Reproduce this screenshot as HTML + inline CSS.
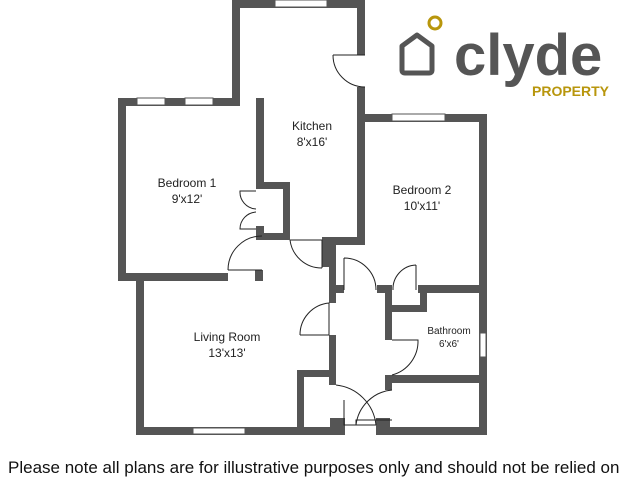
<!DOCTYPE html><html><head><style>body{margin:0;background:#fff;width:640px;height:480px;overflow:hidden;font-family:"Liberation Sans",sans-serif}</style></head><body>
<svg width="640" height="480" xmlns="http://www.w3.org/2000/svg">
<g fill="#555">
<rect x="232" y="0" width="8" height="106"/>
<rect x="232" y="0" width="133" height="8"/>
<rect x="357" y="0" width="8" height="55"/>
<rect x="357" y="87" width="8" height="158"/>
<rect x="118" y="98" width="122" height="8"/>
<rect x="118" y="98" width="8" height="183"/>
<rect x="256" y="98" width="8" height="90"/>
<rect x="256" y="182" width="34" height="7"/>
<rect x="283" y="182" width="7" height="58"/>
<rect x="256" y="233" width="34" height="7"/>
<rect x="256" y="226" width="8" height="14"/>
<rect x="118" y="273" width="110" height="8"/>
<rect x="255" y="270" width="8" height="11"/>
<rect x="136" y="273" width="8" height="162"/>
<rect x="136" y="427" width="209" height="8"/>
<rect x="330" y="418" width="15" height="9"/>
<rect x="329" y="237" width="7" height="66"/>
<rect x="322" y="237" width="43" height="8"/>
<rect x="322" y="237" width="8" height="30"/>
<rect x="336" y="285" width="8" height="8"/>
<rect x="329" y="335" width="7" height="50"/>
<rect x="297" y="370" width="39" height="7"/>
<rect x="297" y="370" width="7" height="65"/>
<rect x="365" y="114" width="122" height="8"/>
<rect x="479" y="114" width="8" height="321"/>
<rect x="377" y="285" width="15" height="8"/>
<rect x="385" y="285" width="7" height="55"/>
<rect x="418" y="285" width="62" height="8"/>
<rect x="420" y="285" width="7" height="27"/>
<rect x="392" y="305" width="35" height="7"/>
<rect x="385" y="375" width="95" height="8"/>
<rect x="385" y="375" width="7" height="15"/>
<rect x="376" y="427" width="111" height="8"/>
<rect x="376" y="418" width="14" height="9"/>
</g>
<g fill="#fff" stroke="#555" stroke-width="1">
<rect x="275" y="0" width="52" height="7"/>
<rect x="137" y="98" width="28" height="7"/>
<rect x="185" y="98" width="28" height="7"/>
<rect x="392" y="114" width="53" height="7"/>
<rect x="480" y="333" width="6" height="24"/>
<rect x="193" y="428" width="52" height="6"/>
</g>
<g fill="none" stroke="#222" stroke-width="1">
<path d="M333 55 L365 55 M333 55 A32 32 0 0 0 365 87"/>
<path d="M228 270 L262 270 M228 270 A34 34 0 0 1 262 236"/>
<path d="M256 191 L240 191 A17 17 0 0 0 256 209 M256 229 L240 229 A17 17 0 0 1 256 212"/>
<path d="M290 240 L322 240 L322 268 M290 240 A32 32 0 0 0 322 268"/>
<path d="M344 258 L344 290 M344 258 A32 32 0 0 1 376 290"/>
<path d="M416 265 L416 290 M416 265 A24 24 0 0 0 393 290"/>
<path d="M300 335 L329 335 L329 303 A32 32 0 0 0 300 335"/>
<path d="M392 340 L418 340 A35 35 0 0 1 392 375"/>
<path d="M336 385 A45 45 0 0 1 376 425 M344 400 L344 425 L376 425"/>
<path d="M392 390 A40 40 0 0 0 356 425 L356 420 L392 420"/>
</g>
<g font-size="12" fill="#222" text-anchor="middle">
<text x="312" y="130">Kitchen</text><text x="312" y="146">8'x16'</text>
<text x="187" y="187">Bedroom 1</text><text x="187" y="203">9'x12'</text>
<text x="422" y="194">Bedroom 2</text><text x="422" y="210">10'x11'</text>
<text x="227" y="341">Living Room</text><text x="227" y="357">13'x13'</text>
<text x="449" y="334" font-size="10">Bathroom</text><text x="449" y="347" font-size="10">6'x6'</text>
</g>
<path d="M402 46 L417 35 L432 46 L432 70 Q432 73 429 73 L405 73 Q402 73 402 70 Z" fill="none" stroke="#555" stroke-width="5" stroke-linejoin="round"/>
<circle cx="435" cy="23" r="6" fill="none" stroke="#b8960c" stroke-width="3"/>
<text x="454" y="75" font-size="58" font-weight="bold" fill="#555">clyde</text>
<text x="532" y="96" font-size="14" font-weight="bold" fill="#b8960c">PROPERTY</text>
<text x="8" y="473" font-size="17" fill="#111">Please note all plans are for illustrative purposes only and should not be relied on</text>
</svg></body></html>
